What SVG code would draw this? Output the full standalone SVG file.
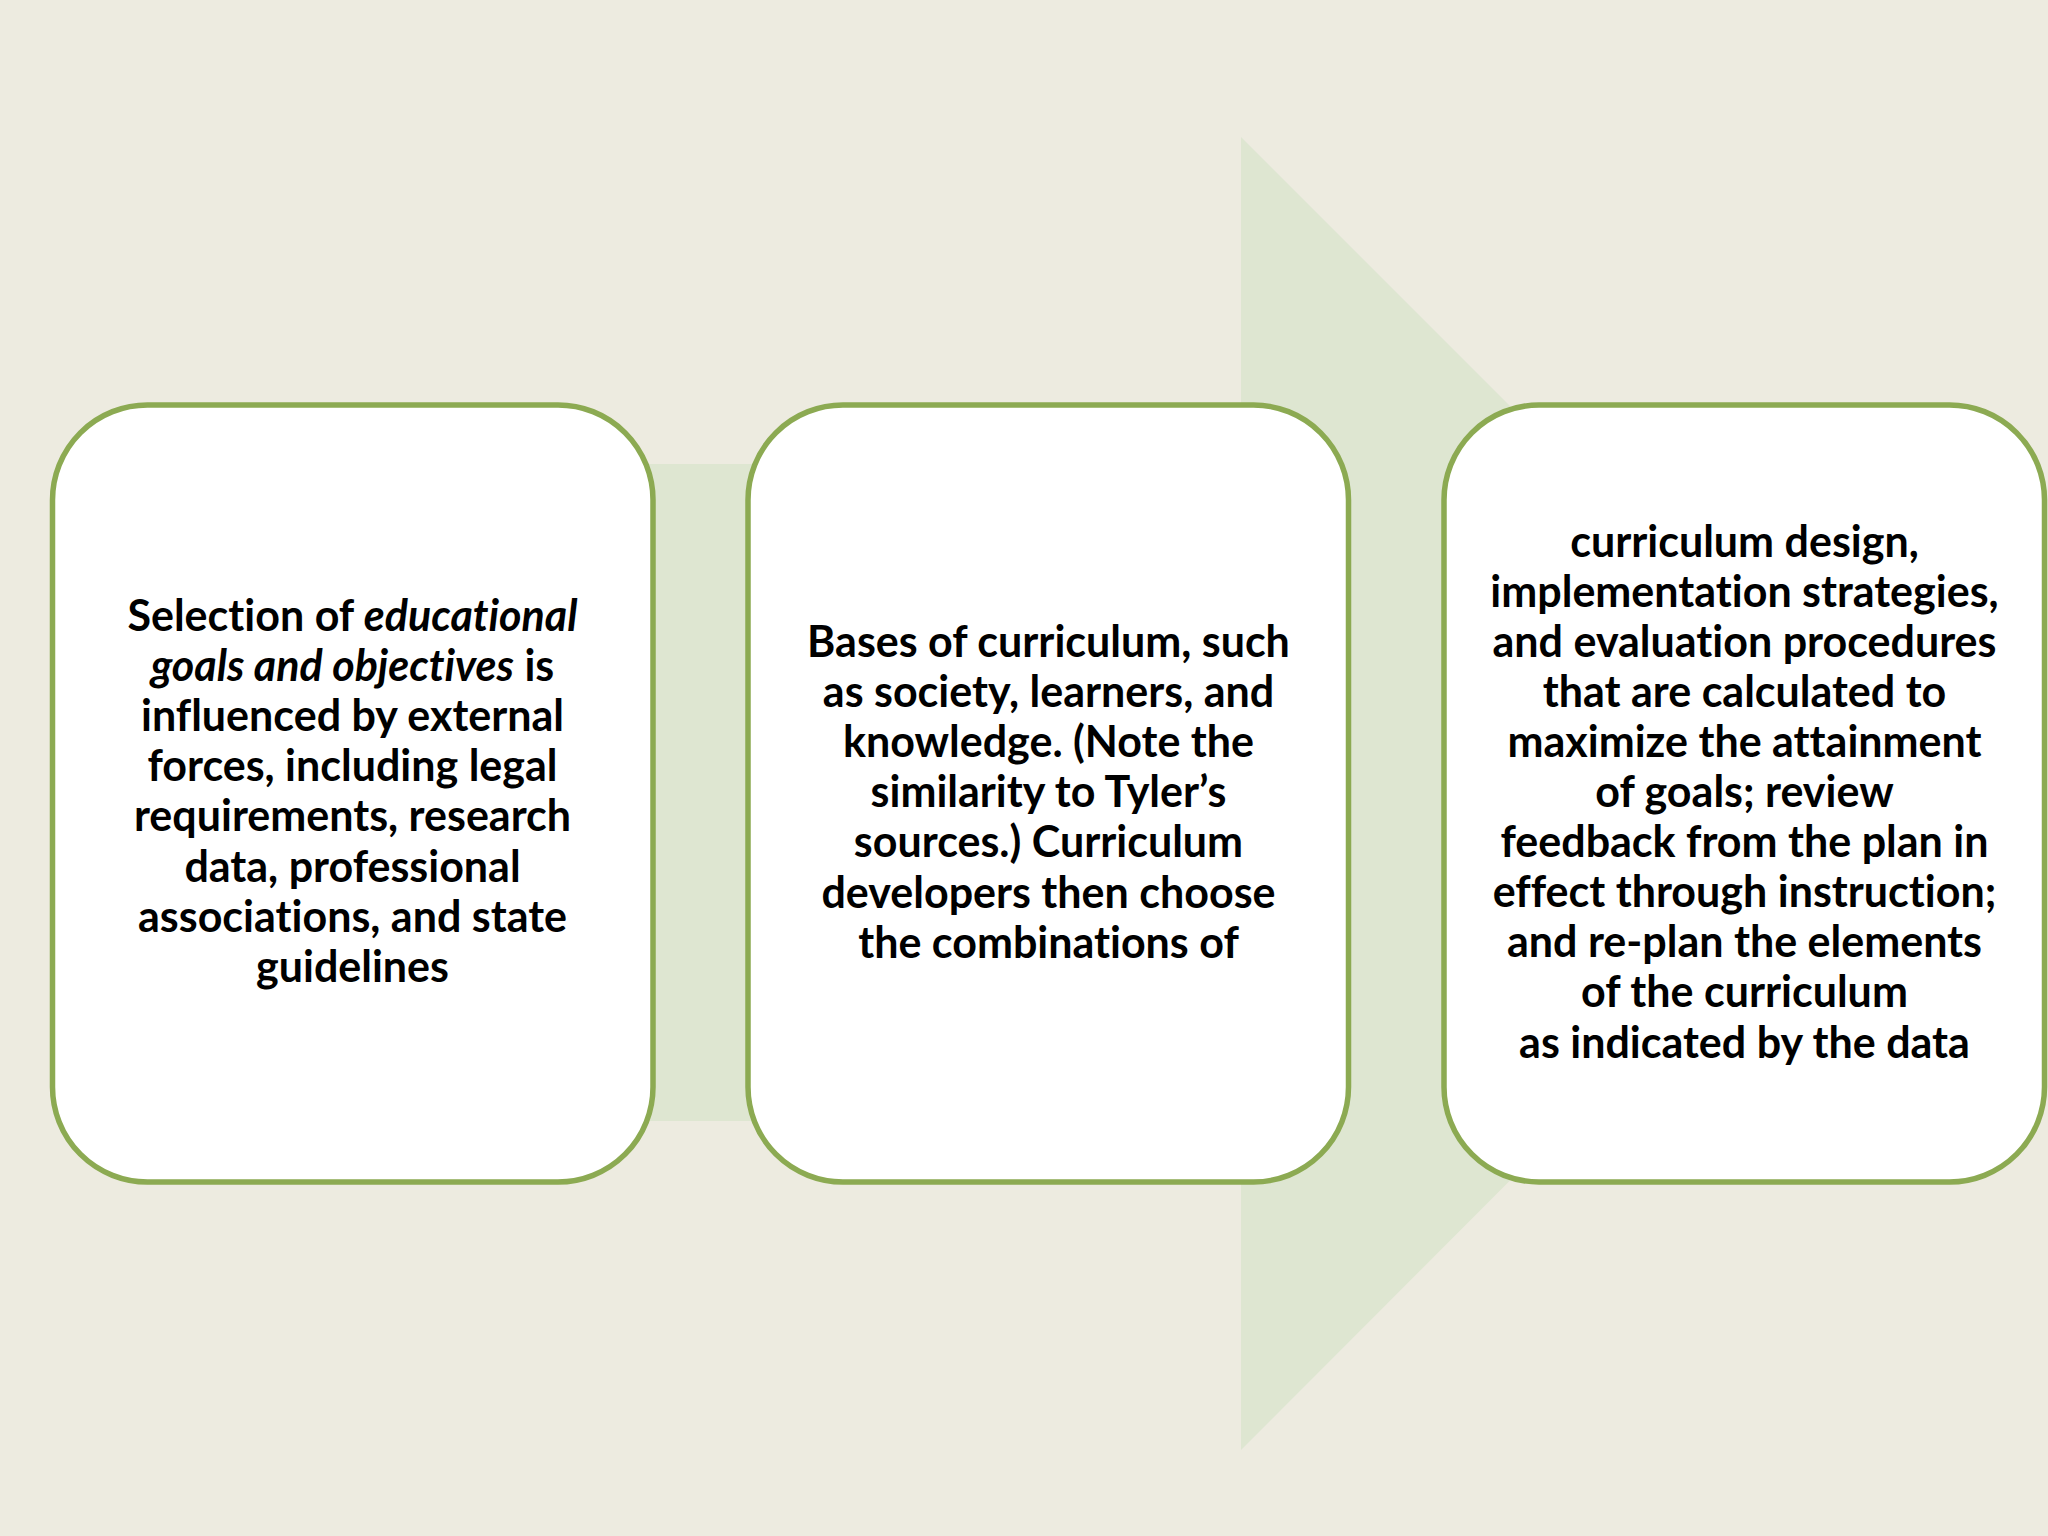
<svg xmlns="http://www.w3.org/2000/svg" width="2048" height="1536" viewBox="0 0 2048 1536">
<style>
.box{fill:#ffffff;stroke:#8CAA52;stroke-width:5.5}
.t{font-family:Lato,"Liberation Sans",sans-serif;font-weight:bold;font-size:43px;fill:#000;text-anchor:middle;font-variant-ligatures:none}
.i{font-style:italic}
</style>
<rect width="2048" height="1536" fill="#EDEBE0"/>
<g id="connectors">
<polygon points="300,464 1241,464 1241,137 1897,793 1241,1450 1241,1121 300,1121" fill="#DEE6D1"/>
</g>
<g id="node1">
<rect class="box" x="52.5" y="405" width="600.5" height="777" rx="95" ry="95"/>
<text class="t" x="352.5" y="631"><tspan x="352.5">Selection of <tspan class="i">educational</tspan></tspan><tspan x="352.5" dy="50.1"><tspan class="i">goals and objectives</tspan> is</tspan><tspan x="352.5" dy="50.1">influenced by external</tspan><tspan x="352.5" dy="50.1">forces, including legal</tspan><tspan x="352.5" dy="50.1">requirements, research</tspan><tspan x="352.5" dy="50.1">data, professional</tspan><tspan x="352.5" dy="50.1">associations, and state</tspan><tspan x="352.5" dy="50.1">guidelines</tspan></text>
</g>
<g id="node2">
<rect class="box" x="748" y="405" width="600.5" height="777" rx="95" ry="95"/>
<text class="t" x="1048.5" y="657"><tspan x="1048.5">Bases of curriculum, such</tspan><tspan x="1048.5" dy="50.1">as society, learners, and</tspan><tspan x="1048.5" dy="50.1">knowledge. (Note the</tspan><tspan x="1048.5" dy="50.1">similarity to Tyler’s</tspan><tspan x="1048.5" dy="50.1">sources.) Curriculum</tspan><tspan x="1048.5" dy="50.1">developers then choose</tspan><tspan x="1048.5" dy="50.1">the combinations of</tspan></text>
</g>
<g id="node3">
<rect class="box" x="1444" y="405" width="600.5" height="777" rx="95" ry="95"/>
<text class="t" x="1744.5" y="556.5"><tspan x="1744.5">curriculum design,</tspan><tspan x="1744.5" dy="50.1">implementation strategies,</tspan><tspan x="1744.5" dy="50.1">and evaluation procedures</tspan><tspan x="1744.5" dy="50.1">that are calculated to</tspan><tspan x="1744.5" dy="50.1">maximize the attainment</tspan><tspan x="1744.5" dy="50.1">of goals; review</tspan><tspan x="1744.5" dy="50.1">feedback from the plan in</tspan><tspan x="1744.5" dy="50.1">effect through instruction;</tspan><tspan x="1744.5" dy="50.1">and re-plan the elements</tspan><tspan x="1744.5" dy="50.1">of the curriculum</tspan><tspan x="1744.5" dy="50.1">as indicated by the data</tspan></text>
</g>
</svg>
